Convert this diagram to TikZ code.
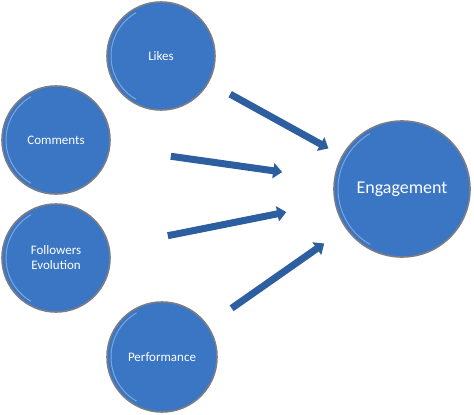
\documentclass[tikz,border=0pt]{standalone}
\usepackage{fontspec}
\setmainfont{Carlito}
\usetikzlibrary{arrows.meta}
\definecolor{circblue}{RGB}{58,118,196}
\definecolor{arrblue}{RGB}{44,94,160}
\definecolor{rimgray}{RGB}{120,125,135}
\tikzset{
  bubble/.style={circle,fill=circblue,draw=rimgray,line width=1.6pt,inner sep=0pt,
    text=white,align=center,font=\fontsize{13}{15}\selectfont},
  blockarrow/.style={draw=arrblue,line width=7pt,
    -{Triangle[length=9pt,width=15pt]}},
}
\begin{document}
\begin{tikzpicture}[x=1pt,y=-1pt]
\useasboundingbox (0,0) rectangle (474,415);
\node[bubble,minimum size=108pt] (likes) at (161,56) {Likes};
\node[bubble,minimum size=108pt] (comments) at (56,140) {Comments};
\node[bubble,minimum size=108pt] (followers) at (56,258) {Followers\\Evolution};
\node[bubble,minimum size=110pt] (perf) at (162,357) {Performance};
\node[bubble,minimum size=136pt,font=\fontsize{18}{20}\selectfont] (eng) at (402,189) {Engagement};
\foreach \n/\r in {likes/50,comments/50,followers/50,perf/51,eng/64}{
  \draw[white,opacity=0.35,line width=1pt] (\n.center) ++(120:\r) arc[start angle=120,end angle=240,radius=\r];
}
\draw[blockarrow,shorten <=79pt,shorten >=84pt] (likes.center) -- (eng.center);
\draw[blockarrow,shorten <=116pt,shorten >=121pt] (comments.center) -- (eng.center);
\draw[blockarrow,shorten <=114pt,shorten >=118pt] (followers.center) -- (eng.center);
\draw[blockarrow,shorten <=85pt,shorten >=95pt] (perf.center) -- (eng.center);
\end{tikzpicture}
\end{document}
